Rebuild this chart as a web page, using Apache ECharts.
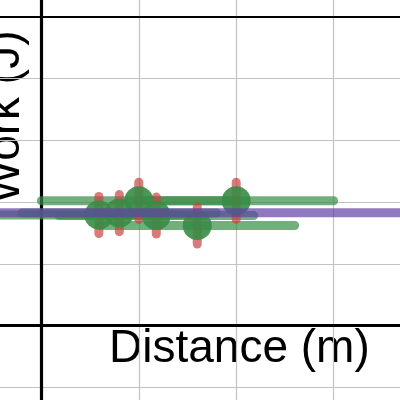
<!DOCTYPE html>
<html>
<head>
<meta charset="utf-8">
<style>
  html, body { margin: 0; padding: 0; background: #fff; overflow: hidden; }
  /* the plot runs past the window on every side, like a panned graph */
  #chart { position: absolute; left: -56px; top: -45px; width: 487px; height: 494px; }
</style>
<script src="https://cdn.jsdelivr.net/npm/echarts@6/dist/echarts.min.js"></script>
</head>
<body>
<div id="chart"></div>
<script>
// measured points (distance, work) with their uncertainties
const distance = [0.59, 0.80, 1.00, 1.18, 1.60, 2.00];
const work = [1.79, 1.82, 2.02, 1.78, 1.62, 2.02];
const distanceErr = [1.0, 1.0, 1.0, 1.0, 1.0, 1.0];
const workErr = [0.30, 0.30, 0.30, 0.30, 0.30, 0.30];

// best fit (flat) and the reference line at the top
const fitSlope = 0;
const fitIntercept = 1.824;
const topLineY = 5;

const xRange = [-1, 4];
const yRange = [-2, 6];

const GREEN = '#388c46';
const RED = '#c74440';
const PURPLE = '#6042a6';

// window offset inside the chart div
const OX = 56, OY = 45;

const points = distance.map((x, i) => [x, work[i], distanceErr[i], workErr[i]]);
const fitLine = xRange.map(x => [x, fitSlope * x + fitIntercept]);

function errorBar(horizontal, color) {
  return {
    type: 'custom',
    data: points,
    silent: true,
    renderItem: (params, api) => {
      const x = api.value(0), y = api.value(1);
      const e = horizontal ? api.value(2) : api.value(3);
      const a = horizontal ? api.coord([x - e, y]) : api.coord([x, y - e]);
      const b = horizontal ? api.coord([x + e, y]) : api.coord([x, y + e]);
      return {
        type: 'line',
        shape: { x1: a[0], y1: a[1], x2: b[0], y2: b[1] },
        style: { stroke: color, lineWidth: 9, lineCap: 'round', opacity: 0.7 }
      };
    }
  };
}

const chart = echarts.init(document.getElementById('chart'));

const axisCommon = {
  type: 'value',
  interval: 1,
  axisLine: { onZero: true, lineStyle: { color: '#000', width: 3.2 } },
  axisTick: { show: false },
  axisLabel: { show: false },
  splitLine: { lineStyle: { color: '#c2c2c2', width: 1.2 } }
};

chart.setOption({
  animation: false,
  backgroundColor: '#fff',
  grid: { left: 0, right: 0, top: 0, bottom: 0 },
  xAxis: Object.assign({}, axisCommon, { min: xRange[0], max: xRange[1] }),
  yAxis: Object.assign({}, axisCommon, { min: yRange[0], max: yRange[1] }),
  graphic: [
    {
      type: 'text',
      x: 109 + OX, y: 349.5 + OY,
      style: {
        text: 'Distance (m)',
        font: '46px "Liberation Sans", Arial, sans-serif',
        fill: '#000',
        textAlign: 'left',
        textVerticalAlign: 'middle'
      }
    },
    {
      type: 'text',
      x: 6 + OX, y: 117 + OY,
      rotation: Math.PI / 2,
      style: {
        text: 'Work (J)',
        font: '46px "Liberation Sans", Arial, sans-serif',
        fill: '#000',
        textAlign: 'center',
        textVerticalAlign: 'middle'
      }
    }
  ],
  series: [
    {
      type: 'line',
      data: fitLine,
      symbol: 'none',
      silent: true,
      lineStyle: { color: PURPLE, width: 9, opacity: 0.7 },
      markLine: {
        silent: true,
        symbol: 'none',
        label: { show: false },
        lineStyle: { color: '#000', width: 2, type: 'solid' },
        data: [{ yAxis: topLineY }]
      }
    },
    errorBar(true, GREEN),
    {
      type: 'scatter',
      data: points,
      symbolSize: 29,
      itemStyle: { color: GREEN, opacity: 0.9 }
    },
    errorBar(false, RED)
  ]
});
</script>
</body>
</html>
